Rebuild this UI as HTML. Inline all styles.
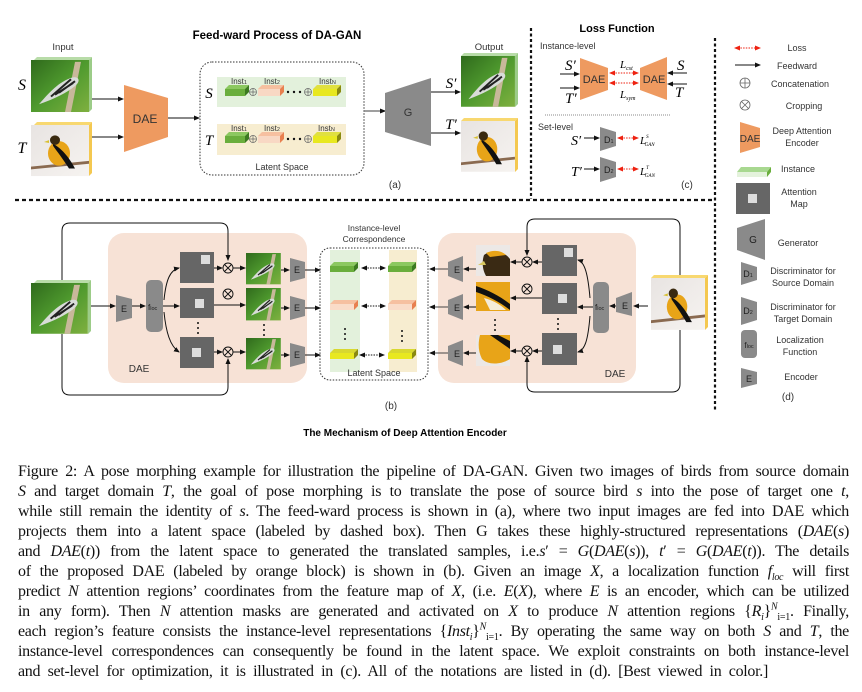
<!DOCTYPE html>
<html><head><meta charset="utf-8">
<style>
body{margin:0;background:#fff;}
#wrap{position:relative;width:862px;height:692px;overflow:hidden;background:#fff;}
svg{position:absolute;left:0;top:0;}
.cap{position:absolute;left:18px;width:831px;font-family:"Liberation Serif",serif;font-size:16px;line-height:20px;white-space:nowrap;text-align:justify;text-align-last:justify;color:#111;letter-spacing:-0.3px;}
.cap i{font-style:italic;}
.cap sub,.cap sup{font-size:10px;line-height:0;}
</style></head><body><div id="wrap">
<svg width="862" height="450" viewBox="0 0 862 450" font-family="Liberation Sans, sans-serif">
<defs>
<marker id="ah" markerWidth="6" markerHeight="6" refX="5" refY="3" orient="auto" markerUnits="userSpaceOnUse"><path d="M0,0.5 L6,3 L0,5.5z" fill="#111"/></marker>
<marker id="rh" markerWidth="6" markerHeight="6" refX="5" refY="3" orient="auto-start-reverse" markerUnits="userSpaceOnUse"><path d="M0,0.5 L6,3 L0,5.5z" fill="#e21"/></marker>
<marker id="kh" markerWidth="6" markerHeight="6" refX="5" refY="3" orient="auto-start-reverse" markerUnits="userSpaceOnUse"><path d="M0,0.5 L6,3 L0,5.5z" fill="#111"/></marker>
<linearGradient id="gS" x1="0" y1="0" x2="1" y2="1"><stop offset="0" stop-color="#2f6a1c"/><stop offset="0.5" stop-color="#4f9a2e"/><stop offset="1" stop-color="#7fb040"/></linearGradient>
<linearGradient id="gT" x1="0" y1="0" x2="1" y2="1"><stop offset="0" stop-color="#e8e4e2"/><stop offset="1" stop-color="#f6f3f0"/></linearGradient>
<g id="birdS"><rect x="0" y="0" width="58" height="54" fill="url(#gS)"/><path d="M44 2 L50 2 L40 54 L34 54z" fill="#c8b89a"/><path d="M8 46 C18 34 28 22 42 18 C48 17 50 22 44 27 C36 34 24 40 8 46z" fill="#d8dcd8"/><path d="M20 38 L40 20 M24 36 L42 24 M28 34 L44 22" stroke="#222" stroke-width="2"/></g>
<g id="birdT"><rect x="0" y="0" width="58" height="54" fill="url(#gT)"/><path d="M0 44 L58 38 L58 41 L0 47z" fill="#8a6a50"/><ellipse cx="28" cy="30" rx="11" ry="13" fill="#e8a418"/><path d="M22 20 C30 24 38 34 44 46 L38 46 C32 36 26 28 22 22z" fill="#111"/><circle cx="24" cy="16" r="5" fill="#3a2a10"/><path d="M18 16 L13 18 L18 19z" fill="#d8c030"/></g>
</defs>

<!-- ========== (a) ========== -->
<text x="277" y="39" font-size="11.5" font-weight="bold" text-anchor="middle">Feed-ward Process of DA-GAN</text>
<text x="63" y="50" font-size="9.5" text-anchor="middle" fill="#333">Input</text>
<path d="M34 60 L37 57 L92 57 L89 60z" fill="#b8dca8"/><path d="M89 60 L92 57 L92 109 L89 112z" fill="#9ccc88"/>
<use href="#birdS" transform="translate(31,60) scale(1,0.963)"/>
<path d="M34 125 L37 122 L92 122 L89 125z" fill="#f8d870"/><path d="M89 125 L92 122 L92 173 L89 176z" fill="#f4c850"/>
<use href="#birdT" transform="translate(31,125) scale(1,0.945)"/>
<text x="22" y="90" font-family="Liberation Serif, serif" font-style="italic" font-size="16" text-anchor="middle">S</text>
<text x="22" y="153" font-family="Liberation Serif, serif" font-style="italic" font-size="16" text-anchor="middle">T</text>
<line x1="92" y1="99" x2="123" y2="99" stroke="#111" marker-end="url(#ah)"/>
<line x1="92" y1="137" x2="123" y2="137" stroke="#111" marker-end="url(#ah)"/>
<path d="M124 85 L168 98 L168 137 L124 152z" fill="#ee9a60"/>
<text x="145" y="123" font-size="12" text-anchor="middle" fill="#333">DAE</text>
<line x1="168" y1="118" x2="199" y2="118" stroke="#111" marker-end="url(#ah)"/>
<rect x="200" y="62" width="164" height="113" rx="12" fill="none" stroke="#333" stroke-dasharray="1.5,1.5"/>
<rect x="217" y="77" width="129" height="30" fill="#e3f1dc"/>
<rect x="217" y="124" width="129" height="31" fill="#f7edd0"/>
<text x="209" y="98" font-family="Liberation Serif, serif" font-style="italic" font-size="15" text-anchor="middle">S</text>
<text x="209" y="145" font-family="Liberation Serif, serif" font-style="italic" font-size="15" text-anchor="middle">T</text>
<g id="instrow">
<path d="M225 89 L229 85 L249 85 L245 89z" fill="#8cc860"/><rect x="225" y="89" width="20" height="7" fill="#6aae3c"/><path d="M245 89 L249 85 L249 92 L245 96z" fill="#3c7a20"/>
<circle cx="253" cy="92" r="3.5" fill="none" stroke="#666" stroke-width="0.7"/><path d="M249.5 92 h7 M253 88.5 v7" stroke="#666" stroke-width="0.7"/>
<path d="M258 89 L262 85 L284 85 L280 89z" fill="#f6c0a0"/><rect x="258" y="89" width="22" height="7" fill="#f8d8c4"/><path d="M280 89 L284 85 L284 92 L280 96z" fill="#e88050"/>
<circle cx="288" cy="92" r="1.2" fill="#111"/><circle cx="294" cy="92" r="1.2" fill="#111"/><circle cx="300" cy="92" r="1.2" fill="#111"/>
<circle cx="308" cy="92" r="3.5" fill="none" stroke="#666" stroke-width="0.7"/><path d="M304.5 92 h7 M308 88.5 v7" stroke="#666" stroke-width="0.7"/>
<path d="M313 89 L317 85 L341 85 L337 89z" fill="#e0e040"/><rect x="313" y="89" width="24" height="7" fill="#e8e820"/><path d="M337 89 L341 85 L341 92 L337 96z" fill="#8a8a10"/>
</g>
<use href="#instrow" transform="translate(0,47)"/>
<g font-size="8" fill="#333"><text x="231" y="84">Inst<tspan font-size="5.5">1</tspan></text><text x="264" y="84">Inst<tspan font-size="5.5">2</tspan></text><text x="319" y="84">Inst<tspan font-size="5.5">N</tspan></text>
<text x="231" y="131">Inst<tspan font-size="5.5">1</tspan></text><text x="264" y="131">Inst<tspan font-size="5.5">2</tspan></text><text x="318" y="131">Inst<tspan font-size="5.5">N</tspan></text></g>
<text x="282" y="170" font-size="9" text-anchor="middle" fill="#333">Latent Space</text>
<line x1="364" y1="111" x2="385" y2="111" stroke="#666" stroke-width="1.2" marker-end="url(#ah)"/>
<path d="M385 93 L431 78 L431 146 L385 132z" fill="#8a8a8a"/>
<text x="408" y="116" font-size="11" text-anchor="middle" fill="#333">G</text>
<line x1="431" y1="92" x2="460" y2="92" stroke="#111" marker-end="url(#ah)"/>
<line x1="431" y1="133" x2="460" y2="133" stroke="#111" marker-end="url(#ah)"/>
<text x="451" y="88" font-family="Liberation Serif, serif" font-style="italic" font-size="15" text-anchor="middle">S′</text>
<text x="451" y="129" font-family="Liberation Serif, serif" font-style="italic" font-size="15" text-anchor="middle">T′</text>
<text x="489" y="50" font-size="9.5" text-anchor="middle" fill="#333">Output</text>
<path d="M461 56 L464 53 L518 53 L515 56z" fill="#b8dca8"/><path d="M515 56 L518 53 L518 104 L515 107z" fill="#9ccc88"/>
<use href="#birdS" transform="translate(461,56) scale(0.93,0.94)"/>
<path d="M461 121 L464 118 L518 118 L515 121z" fill="#f8d870"/><path d="M515 121 L518 118 L518 169 L515 172z" fill="#f4c850"/>
<use href="#birdT" transform="translate(461,121) scale(0.93,0.94)"/>
<text x="395" y="188" font-size="10" text-anchor="middle" fill="#333">(a)</text>

<line x1="15" y1="200" x2="715" y2="200" stroke="#111" stroke-width="2.2" stroke-dasharray="4,3"/>
<line x1="531" y1="28" x2="531" y2="199" stroke="#111" stroke-width="2.2" stroke-dasharray="3,2.5"/>
<line x1="715" y1="38" x2="715" y2="410" stroke="#111" stroke-width="2.2" stroke-dasharray="3,2.5"/>

<!-- ========== (c) ========== -->
<text x="617" y="32" font-size="11" font-weight="bold" text-anchor="middle">Loss Function</text>
<text x="540" y="49" font-size="9" fill="#333">Instance-level</text>
<path d="M580 58 L608 68 L608 90 L580 100z" fill="#ee9a60"/>
<path d="M640 68 L667 57 L667 100 L640 90z" fill="#ee9a60"/>
<text x="594" y="83" font-size="11" text-anchor="middle" fill="#333">DAE</text>
<text x="654" y="83" font-size="11" text-anchor="middle" fill="#333">DAE</text>
<line x1="610" y1="73" x2="638" y2="73" stroke="#e21" stroke-dasharray="1.5,1.2" marker-start="url(#rh)" marker-end="url(#rh)"/>
<line x1="610" y1="83" x2="638" y2="83" stroke="#e21" stroke-dasharray="1.5,1.2" marker-start="url(#rh)" marker-end="url(#rh)"/>
<g font-family="Liberation Serif, serif" font-style="italic">
<text x="620" y="68" font-size="11">L<tspan font-size="6" dy="2">cst</tspan></text>
<text x="620" y="98" font-size="11">L<tspan font-size="6" dy="2">sym</tspan></text>
<text x="565" y="70" font-size="15">S′</text><text x="565" y="103" font-size="15">T′</text>
<text x="677" y="70" font-size="15">S</text><text x="675" y="97" font-size="15">T</text>
<text x="571" y="145" font-size="14">S′</text><text x="571" y="176" font-size="14">T′</text>
<text x="640" y="144" font-size="11">L<tspan font-size="5" dy="-6">S</tspan><tspan font-size="5" dx="-4" dy="8">GAN</tspan></text>
<text x="640" y="175" font-size="11">L<tspan font-size="5" dy="-6">T</tspan><tspan font-size="5" dx="-4" dy="8">GAN</tspan></text>
</g>
<line x1="560" y1="74" x2="579" y2="74" stroke="#111" marker-end="url(#ah)"/>
<line x1="560" y1="88" x2="579" y2="88" stroke="#111" marker-end="url(#ah)"/>
<line x1="687" y1="73" x2="668" y2="73" stroke="#111" marker-end="url(#ah)"/>
<line x1="687" y1="84" x2="668" y2="84" stroke="#111" marker-end="url(#ah)"/>
<line x1="545" y1="115" x2="670" y2="115" stroke="#666" stroke-width="0.8" stroke-dasharray="1,1"/>
<text x="538" y="130" font-size="9" fill="#333">Set-level</text>
<path d="M600 127 L616 132 L616 146 L600 151z" fill="#8a8a8a"/>
<path d="M600 157 L616 162 L616 177 L600 182z" fill="#8a8a8a"/>
<text x="604" y="143" font-size="9" fill="#222">D<tspan font-size="5.5">1</tspan></text>
<text x="604" y="173" font-size="9" fill="#222">D<tspan font-size="5.5">2</tspan></text>
<line x1="584" y1="138" x2="599" y2="138" stroke="#111" marker-end="url(#ah)"/>
<line x1="584" y1="169" x2="599" y2="169" stroke="#111" marker-end="url(#ah)"/>
<line x1="618" y1="138" x2="638" y2="138" stroke="#e21" stroke-dasharray="1.5,1.2" marker-start="url(#rh)" marker-end="url(#rh)"/>
<line x1="618" y1="169" x2="638" y2="169" stroke="#e21" stroke-dasharray="1.5,1.2" marker-start="url(#rh)" marker-end="url(#rh)"/>
<text x="687" y="188" font-size="10" text-anchor="middle" fill="#333">(c)</text>

<!-- ========== (d) legend ========== -->
<g font-size="9" fill="#333" text-anchor="middle">
<line x1="735" y1="48" x2="760" y2="48" stroke="#e21" stroke-dasharray="1.5,1.2" marker-start="url(#rh)" marker-end="url(#rh)"/>
<text x="797" y="51">Loss</text>
<line x1="735" y1="65" x2="760" y2="65" stroke="#111" marker-end="url(#ah)"/>
<text x="797" y="69">Feedward</text>
<circle cx="745" cy="83" r="5" fill="none" stroke="#666" stroke-width="0.8"/><path d="M740 83 h10 M745 78 v10" stroke="#666" stroke-width="0.8"/>
<text x="800" y="87">Concatenation</text>
<circle cx="745" cy="105" r="5" fill="none" stroke="#666" stroke-width="0.8"/><path d="M741.5 101.5 l7 7 M748.5 101.5 l-7 7" stroke="#666" stroke-width="0.8"/>
<text x="804" y="109">Cropping</text>
<path d="M740 122 L760 128 L760 147 L740 153z" fill="#ee9a60"/>
<text x="750" y="142" font-size="10">DAE</text>
<text x="802" y="134">Deep Attention</text><text x="802" y="146">Encoder</text>
<path d="M737 172 L741 167 L771 167 L767 172z" fill="#a8d890"/><rect x="737" y="172" width="30" height="5" fill="#e4f2dc"/><path d="M767 172 L771 167 L771 172 L767 177z" fill="#6aae3c"/>
<text x="798" y="172">Instance</text>
<rect x="736" y="183" width="34" height="31" fill="#666"/><rect x="748" y="194" width="9" height="9" fill="#ddd"/>
<text x="799" y="195">Attention</text><text x="799" y="207">Map</text>
<path d="M737 228 L765 219 L765 260 L737 250z" fill="#8a8a8a"/>
<text x="753" y="243" font-size="10" fill="#222">G</text>
<text x="798" y="246">Generator</text>
<path d="M741 262 L757 267 L757 280 L741 285z" fill="#8a8a8a"/>
<text x="748" y="277" font-size="9" fill="#222">D<tspan font-size="5.5">1</tspan></text>
<text x="803" y="274">Discriminator for</text><text x="803" y="286">Source Domain</text>
<path d="M741 297 L757 302 L757 320 L741 325z" fill="#8a8a8a"/>
<text x="748" y="314" font-size="9" fill="#222">D<tspan font-size="5.5">2</tspan></text>
<text x="803" y="310">Discriminator for</text><text x="803" y="322">Target Domain</text>
<rect x="741" y="330" width="16" height="28" rx="4" fill="#8a8a8a"/>
<text x="749" y="348" font-size="8" fill="#222">f<tspan font-size="5.5">loc</tspan></text>
<text x="800" y="343">Localization</text><text x="800" y="355">Function</text>
<path d="M741 368 L757 372 L757 384 L741 388z" fill="#8a8a8a"/>
<text x="749" y="382" font-size="9" fill="#222">E</text>
<text x="801" y="380">Encoder</text>
<text x="788" y="400" font-size="10">(d)</text>
</g>

<!-- ========== (b) left ========== -->
<rect x="108" y="233" width="199" height="150" rx="16" fill="#f7e2d6"/>
<path d="M62 280 V231 Q62 223 70 223 H220 Q228 223 228 231 V260" fill="none" stroke="#111" marker-end="url(#ah)"/>
<path d="M62 334 V387 Q62 395 70 395 H220 Q228 395 228 387 V359" fill="none" stroke="#111" marker-end="url(#ah)"/>
<path d="M34 283 L37 280 L91 280 L88 283z" fill="#b8dca8"/><path d="M88 283 L91 280 L91 331 L88 334z" fill="#9ccc88"/>
<use href="#birdS" transform="translate(31,283) scale(0.98,0.94)"/>
<line x1="91" y1="306" x2="115" y2="306" stroke="#111" marker-end="url(#ah)"/>
<path d="M116 295 L132 299 L132 318 L116 322z" fill="#8a8a8a"/><text x="124" y="312" font-size="9" text-anchor="middle" fill="#222">E</text>
<line x1="132" y1="306" x2="145" y2="306" stroke="#111" marker-end="url(#ah)"/>
<rect x="146" y="280" width="17" height="52" rx="5" fill="#8a8a8a"/>
<text x="148" y="310" font-size="8" fill="#222">f<tspan font-size="5.5">loc</tspan></text>
<line x1="163" y1="306" x2="179" y2="306" stroke="#111" marker-end="url(#ah)"/>
<path d="M164 300 C166 280 170 270 179 268" fill="none" stroke="#111" marker-end="url(#ah)"/>
<path d="M164 312 C166 332 170 346 179 352" fill="none" stroke="#111" marker-end="url(#ah)"/>
<rect x="180" y="252" width="34" height="31" fill="#666"/><rect x="201" y="255" width="9" height="9" fill="#ddd"/>
<rect x="180" y="288" width="34" height="30" fill="#666"/><rect x="195" y="299" width="9" height="9" fill="#ddd"/>
<rect x="180" y="337" width="34" height="31" fill="#666"/><rect x="192" y="348" width="9" height="9" fill="#ddd"/>
<g fill="#111"><circle cx="198" cy="323" r="1"/><circle cx="198" cy="328" r="1"/><circle cx="198" cy="333" r="1"/>
<circle cx="264" cy="325" r="1"/><circle cx="264" cy="330" r="1"/><circle cx="264" cy="335" r="1"/></g>
<g fill="none" stroke="#111" stroke-width="0.9">
<circle cx="228" cy="268" r="5"/><path d="M224.5 264.5 l7 7 M231.5 264.5 l-7 7"/>
<circle cx="228" cy="294" r="5"/><path d="M224.5 290.5 l7 7 M231.5 290.5 l-7 7"/>
<circle cx="228" cy="352" r="5"/><path d="M224.5 348.5 l7 7 M231.5 348.5 l-7 7"/></g>
<line x1="214" y1="268" x2="222" y2="268" stroke="#111" marker-end="url(#ah)"/>
<line x1="233" y1="268" x2="245" y2="268" stroke="#111" marker-end="url(#ah)"/>
<line x1="214" y1="305" x2="245" y2="305" stroke="#111" marker-end="url(#ah)"/>
<line x1="214" y1="352" x2="222" y2="352" stroke="#111" marker-end="url(#ah)"/>
<line x1="233" y1="352" x2="245" y2="352" stroke="#111" marker-end="url(#ah)"/>
<use href="#birdS" transform="translate(246,253) scale(0.6,0.58)"/>
<use href="#birdS" transform="translate(246,288) scale(0.6,0.6)"/>
<use href="#birdS" transform="translate(246,338) scale(0.6,0.58)"/>
<g fill="#8a8a8a"><path d="M290 258 L305 262 L305 278 L290 282z"/><path d="M290 296 L305 300 L305 316 L290 320z"/><path d="M290 343 L305 347 L305 363 L290 367z"/></g>
<g font-size="9" fill="#222" text-anchor="middle"><text x="297" y="273">E</text><text x="297" y="311">E</text><text x="297" y="358">E</text></g>
<line x1="281" y1="270" x2="289" y2="270" stroke="#111" marker-end="url(#ah)"/>
<line x1="281" y1="308" x2="289" y2="308" stroke="#111" marker-end="url(#ah)"/>
<line x1="281" y1="355" x2="289" y2="355" stroke="#111" marker-end="url(#ah)"/>
<line x1="305" y1="270" x2="320" y2="270" stroke="#111" marker-end="url(#ah)"/>
<line x1="305" y1="308" x2="320" y2="308" stroke="#111" marker-end="url(#ah)"/>
<line x1="305" y1="355" x2="320" y2="355" stroke="#111" marker-end="url(#ah)"/>
<text x="139" y="372" font-size="10" text-anchor="middle" fill="#333">DAE</text>

<!-- latent (b) -->
<text x="374" y="231" font-size="8.5" text-anchor="middle" fill="#333">Instance-level</text>
<text x="374" y="242" font-size="8.5" text-anchor="middle" fill="#333">Correspondence</text>
<rect x="320" y="248" width="108" height="132" rx="10" fill="none" stroke="#333" stroke-dasharray="1.5,1.5"/>
<rect x="330" y="250" width="30" height="122" fill="#e3f1dc"/>
<rect x="389" y="250" width="28" height="122" fill="#f7edd0"/>
<g id="i1"><path d="M330 266 L334 262 L358 262 L354 266z" fill="#8cc860"/><rect x="330" y="266" width="24" height="6" fill="#6aae3c"/><path d="M354 266 L358 262 L358 268 L354 272z" fill="#3c7a20"/></g>
<use href="#i1" transform="translate(58,0)"/>
<g id="i2"><path d="M330 304 L334 300 L358 300 L354 304z" fill="#f6c0a0"/><rect x="330" y="304" width="24" height="6" fill="#fadcc8"/><path d="M354 304 L358 300 L358 306 L354 310z" fill="#e88050"/></g>
<use href="#i2" transform="translate(58,0)"/>
<g id="i3"><path d="M330 353 L334 349 L358 349 L354 353z" fill="#d8d830"/><rect x="330" y="353" width="24" height="6" fill="#e8e820"/><path d="M354 353 L358 349 L358 355 L354 359z" fill="#8a8a10"/></g>
<use href="#i3" transform="translate(58,0)"/>
<g stroke="#111" stroke-dasharray="1.5,1.2"><line x1="362" y1="268" x2="385" y2="268" marker-start="url(#kh)" marker-end="url(#kh)"/>
<line x1="362" y1="306" x2="385" y2="306" marker-start="url(#kh)" marker-end="url(#kh)"/>
<line x1="360" y1="355" x2="384" y2="355" marker-start="url(#kh)" marker-end="url(#kh)"/></g>
<g fill="#111"><circle cx="345" cy="329" r="1"/><circle cx="345" cy="334" r="1"/><circle cx="345" cy="339" r="1"/>
<circle cx="402" cy="331" r="1"/><circle cx="402" cy="336" r="1"/><circle cx="402" cy="341" r="1"/></g>
<text x="374" y="376" font-size="9" text-anchor="middle" fill="#333">Latent Space</text>

<!-- ========== (b) right ========== -->
<rect x="438" y="233" width="198" height="150" rx="16" fill="#f7e2d6"/>
<path d="M680 275 V227 Q680 219 672 219 H535 Q527 219 527 227 V255" fill="none" stroke="#111" marker-end="url(#ah)"/>
<path d="M680 330 V384 Q680 392 672 392 H535 Q527 392 527 384 V357" fill="none" stroke="#111" marker-end="url(#ah)"/>
<path d="M651 278 L654 275 L708 275 L705 278z" fill="#f8d870"/><path d="M705 278 L708 275 L708 327 L705 330z" fill="#f4c850"/>
<use href="#birdT" transform="translate(651,278) scale(0.93,0.96)"/>
<line x1="648" y1="306" x2="634" y2="306" stroke="#111" marker-end="url(#ah)"/>
<path d="M616 298 L632 292 L632 316 L616 312z" fill="#8a8a8a"/><text x="622" y="309" font-size="9" fill="#222">E</text>
<line x1="616" y1="306" x2="610" y2="306" stroke="#111" marker-end="url(#ah)"/>
<rect x="593" y="282" width="16" height="51" rx="5" fill="#8a8a8a"/>
<text x="595" y="310" font-size="8" fill="#222">f<tspan font-size="5.5">loc</tspan></text>
<line x1="593" y1="307" x2="578" y2="307" stroke="#111" marker-end="url(#ah)"/>
<path d="M590 298 C588 275 585 262 578 260" fill="none" stroke="#111" marker-end="url(#ah)"/>
<path d="M590 316 C588 340 585 350 578 352" fill="none" stroke="#111" marker-end="url(#ah)"/>
<rect x="542" y="245" width="35" height="31" fill="#666"/><rect x="564" y="248" width="9" height="9" fill="#ddd"/>
<rect x="542" y="283" width="35" height="31" fill="#666"/><rect x="558" y="294" width="9" height="9" fill="#ddd"/>
<rect x="542" y="333" width="35" height="32" fill="#666"/><rect x="553" y="345" width="9" height="9" fill="#ddd"/>
<g fill="#111"><circle cx="558" cy="319" r="1"/><circle cx="558" cy="324" r="1"/><circle cx="558" cy="329" r="1"/>
<circle cx="495" cy="320" r="1"/><circle cx="495" cy="325" r="1"/><circle cx="495" cy="330" r="1"/></g>
<g fill="none" stroke="#111" stroke-width="0.9">
<circle cx="527" cy="262" r="5"/><path d="M523.5 258.5 l7 7 M530.5 258.5 l-7 7"/>
<circle cx="527" cy="289" r="5"/><path d="M523.5 285.5 l7 7 M530.5 285.5 l-7 7"/>
<circle cx="527" cy="351" r="5"/><path d="M523.5 347.5 l7 7 M530.5 347.5 l-7 7"/></g>
<line x1="542" y1="262" x2="533" y2="262" stroke="#111" marker-end="url(#ah)"/>
<line x1="522" y1="262" x2="511" y2="262" stroke="#111" marker-end="url(#ah)"/>
<line x1="542" y1="298" x2="511" y2="298" stroke="#111" marker-end="url(#ah)"/>
<line x1="542" y1="351" x2="533" y2="351" stroke="#111" marker-end="url(#ah)"/>
<line x1="522" y1="351" x2="511" y2="351" stroke="#111" marker-end="url(#ah)"/>
<g transform="translate(476,245)"><rect width="34" height="31" fill="#ece8e6"/><path d="M8 10 C16 4 28 6 34 14 L34 31 L10 31 C6 24 6 16 8 10z" fill="#3a2a14"/><path d="M10 8 C18 4 26 6 30 10 L14 12z" fill="#e8a418"/><path d="M8 16 L2 20 L10 20z" fill="#d8c860"/></g>
<g transform="translate(476,282)"><rect width="34" height="29" fill="#e8a418"/><path d="M0 10 C12 14 24 20 34 28 L34 22 C24 14 12 8 0 4z" fill="#111"/><path d="M8 16 C16 18 24 22 30 28 L14 28z" fill="#f4ecd8"/></g>
<g transform="translate(476,335)"><rect width="34" height="31" fill="#ece8e6"/><path d="M4 0 H34 V24 C24 30 12 30 6 24 C2 16 2 8 4 0z" fill="#e8a418"/><path d="M14 0 L34 14 L34 6 L22 0z" fill="#111"/></g>
<g fill="#8a8a8a"><path d="M448 262 L463 256 L463 282 L448 276z"/><path d="M448 300 L463 294 L463 320 L448 314z"/><path d="M448 346 L463 340 L463 366 L448 360z"/></g>
<g font-size="9" fill="#222" text-anchor="middle"><text x="457" y="273">E</text><text x="457" y="311">E</text><text x="457" y="357">E</text></g>
<line x1="476" y1="269" x2="464" y2="269" stroke="#111" marker-end="url(#ah)"/>
<line x1="476" y1="307" x2="464" y2="307" stroke="#111" marker-end="url(#ah)"/>
<line x1="476" y1="353" x2="464" y2="353" stroke="#111" marker-end="url(#ah)"/>
<line x1="448" y1="269" x2="430" y2="269" stroke="#444" marker-end="url(#ah)"/>
<line x1="448" y1="307" x2="430" y2="307" stroke="#444" marker-end="url(#ah)"/>
<line x1="448" y1="353" x2="430" y2="353" stroke="#444" marker-end="url(#ah)"/>
<text x="615" y="377" font-size="10" text-anchor="middle" fill="#333">DAE</text>

<text x="391" y="409" font-size="10" text-anchor="middle" fill="#333">(b)</text>
<text x="405" y="436" font-size="10" font-weight="bold" text-anchor="middle">The Mechanism of Deep Attention Encoder</text>
</svg>

<div class="cap" style="top:462px">Figure 2: A pose morphing example for illustration the pipeline of DA-GAN. Given two images of birds from source domain</div>
<div class="cap" style="top:482px"><i>S</i> and target domain <i>T</i>, the goal of pose morphing is to translate the pose of source bird <i>s</i> into the pose of target one <i>t</i>,</div>
<div class="cap" style="top:502px">while still remain the identity of <i>s</i>. The feed-ward process is shown in (a), where two input images are fed into DAE which</div>
<div class="cap" style="top:522px">projects them into a latent space (labeled by dashed box). Then G takes these highly-structured representations (<i>DAE</i>(<i>s</i>)</div>
<div class="cap" style="top:542px">and <i>DAE</i>(<i>t</i>)) from the latent space to generated the translated samples, i.e.<i>s</i>′ = <i>G</i>(<i>DAE</i>(<i>s</i>)), <i>t</i>′ = <i>G</i>(<i>DAE</i>(<i>t</i>)). The details</div>
<div class="cap" style="top:562px">of the proposed DAE (labeled by orange block) is shown in (b). Given an image <i>X</i>, a localization function <i>f<sub>loc</sub></i> will first</div>
<div class="cap" style="top:582px">predict <i>N</i> attention regions’ coordinates from the feature map of <i>X</i>, (i.e. <i>E</i>(<i>X</i>), where <i>E</i> is an encoder, which can be utilized</div>
<div class="cap" style="top:602px">in any form). Then <i>N</i> attention masks are generated and activated on <i>X</i> to produce <i>N</i> attention regions {<i>R<sub>i</sub></i>}<sup><i>N</i></sup><sub>i=1</sub>. Finally,</div>
<div class="cap" style="top:622px">each region’s feature consists the instance-level representations {<i>Inst<sub>i</sub></i>}<sup><i>N</i></sup><sub>i=1</sub>. By operating the same way on both <i>S</i> and <i>T</i>, the</div>
<div class="cap" style="top:642px">instance-level correspondences can consequently be found in the latent space. We exploit constraints on both instance-level</div>
<div class="cap" style="top:662px;width:750px">and set-level for optimization, it is illustrated in (c). All of the notations are listed in (d). [Best viewed in color.]</div>
</div></body></html>
